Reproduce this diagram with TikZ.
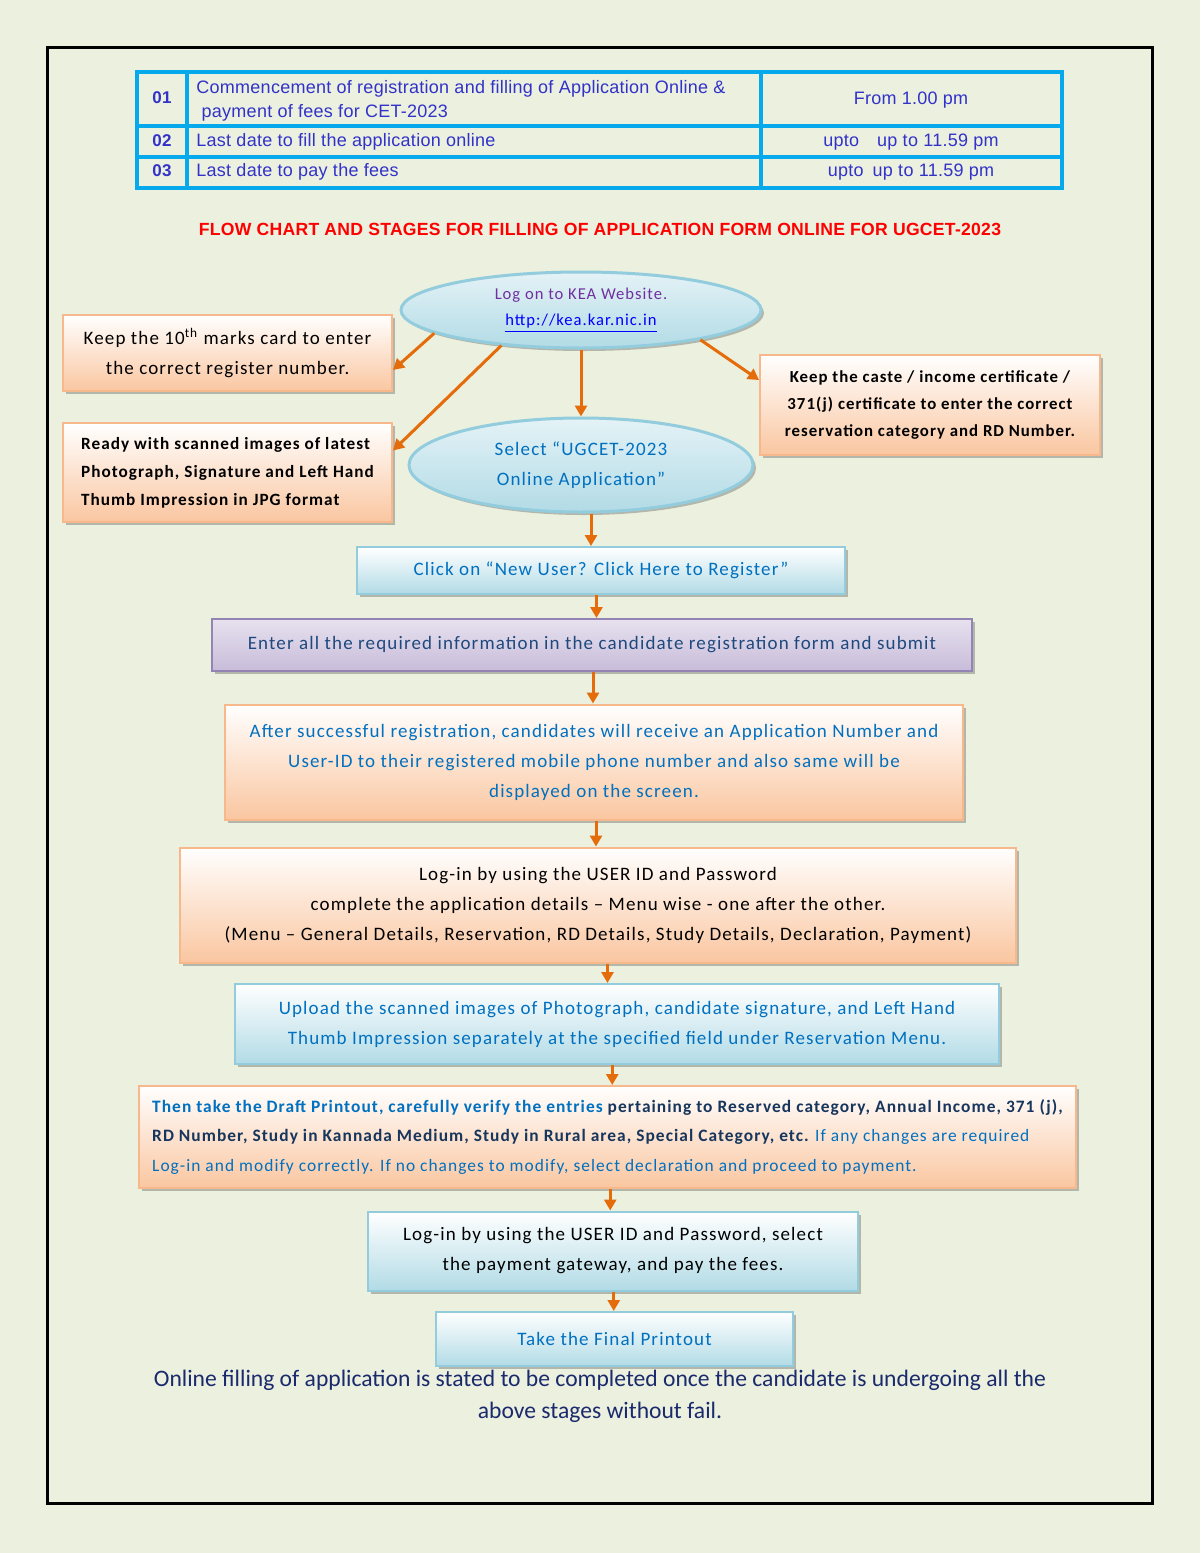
\documentclass[tikz,border=0pt]{standalone}
\usepackage{fontspec}
\setmainfont{Carlito}[LetterSpace=6]
\newfontfamily\plainfont{Carlito}
\newfontfamily\tahfont{Liberation Sans}[LetterSpace=1.5]
\usetikzlibrary{arrows.meta,shapes.geometric,shadows,calc}

\definecolor{pagebg}{HTML}{EBF0DF}
\definecolor{tabline}{HTML}{05A9EC}
\definecolor{tabtext}{HTML}{3232C8}
\definecolor{flowarrow}{HTML}{E46C0A}
\definecolor{orline}{HTML}{F7B98C}
\definecolor{orfill}{HTML}{FAC6A0}
\definecolor{blline}{HTML}{93CDDD}
\definecolor{blfill}{HTML}{B2DBE6}
\definecolor{puline}{HTML}{9484B4}
\definecolor{pufill}{HTML}{C8BCDA}
\definecolor{msblue}{HTML}{0070C0}
\definecolor{navy}{HTML}{17365D}
\definecolor{entertext}{HTML}{1F497D}
\definecolor{notenavy}{HTML}{1A2A6C}
\definecolor{keapurple}{HTML}{7030A0}

\tikzset{
  shade/.style={drop shadow={shadow xshift=1.5pt,shadow yshift=-1.5pt,fill=black!70,opacity=0.35}},
  orbox/.style={rectangle, draw=orline, line width=1pt, top color=white, bottom color=orfill, shade, inner sep=0pt, align=center},
  blbox/.style={rectangle, draw=blline, line width=1pt, top color=white, bottom color=blfill, shade, inner sep=0pt, align=center},
  pubox/.style={rectangle, draw=puline, line width=1pt, top color=pufill!45, bottom color=pufill, shade, inner sep=0pt, align=center},
  oval/.style={ellipse, draw=blline, line width=1.5pt, top color=blfill!35, bottom color=blfill, shade, inner sep=0pt, align=center},
  flow/.style={draw=flowarrow, line width=1.5pt, -{Triangle[length=5.5pt,width=6pt]}},
  body/.style={font=\fontsize{9.5}{15}\selectfont},
  tabcell/.style={font=\tahfont\fontsize{9}{12}\selectfont, text=tabtext, inner sep=0pt}
}

\begin{document}
\begin{tikzpicture}[x=0.5pt,y=-0.5pt]
\useasboundingbox (0,0) rectangle (1200,1553);
\fill[pagebg] (0,0) rectangle (1200,1553);
% page frame
\draw[line width=1.5pt] (47,47) rectangle (1152,1503);

% dates table
\draw[tabline, line width=1.6pt] (137,72) rectangle (1062,188);
\draw[tabline, line width=1.6pt] (187,72) -- (187,188) (761,72) -- (761,188);
\draw[tabline, line width=1.6pt] (137,126) -- (1062,126) (137,157) -- (1062,157);
\node[tabcell, font=\tahfont\bfseries\fontsize{8.5}{12}\selectfont] (no1) at (162,98) {01};
\node[tabcell, font=\tahfont\bfseries\fontsize{8.5}{12}\selectfont] (no2) at (162,141) {02};
\node[tabcell, font=\tahfont\bfseries\fontsize{8.5}{12}\selectfont] (no3) at (162,171) {03};
\node[tabcell, anchor=west, align=left] (ev1) at (196,101) {Commencement of registration and filling of Application Online \&\\\ payment of fees for CET-2023};
\node[tabcell, anchor=west] (ev2) at (196,142) {Last date to fill the application online};
\node[tabcell, anchor=west] (ev3) at (196,172) {Last date to pay the fees};
\node[tabcell] (tm1) at (911,100) {From 1.00 pm};
\node[tabcell] (tm2) at (911,142) {upto\quad up to 11.59 pm};
\node[tabcell] (tm3) at (911,172) {upto\enspace up to 11.59 pm};

% title
\node[font=\tahfont\bfseries\fontsize{8.8}{10}\selectfont, text=red] (title) at (600,229)
  {FLOW CHART AND STAGES FOR FILLING OF APPLICATION FORM ONLINE FOR UGCET-2023};

% top ovals
\node[oval, minimum width=180pt, minimum height=38pt, font=\fontsize{8.3}{13}\selectfont] (logon) at (581,310)
  {\textcolor{keapurple}{Log on to KEA Website.}\\\textcolor{blue}{\underline{http://kea.kar.nic.in}}};
\node[oval, minimum width=172pt, minimum height=47pt, body, text=msblue] (select) at (581,465)
  {Select “UGCET-2023\\Online Application”};

% side notes
\node[orbox, body, minimum width=164.5pt, minimum height=38pt] (tenth) at (227.5,353)
  {Keep the 10\textsuperscript{th} marks card to enter\\the correct register number.};
\node[orbox, minimum width=164.5pt, minimum height=49.5pt, align=left, font=\bfseries\fontsize{8.6}{14}\selectfont] (scan) at (227.5,472.5)
  {Ready with scanned images of latest\\Photograph, Signature and Left Hand\\Thumb Impression in JPG format};
\node[orbox, minimum width=170pt, minimum height=50pt, font=\bfseries\fontsize{8.4}{13.5}\selectfont] (caste) at (930,405)
  {Keep the caste / income certificate /\\371(j) certificate to enter the correct\\reservation category and RD Number.};

% main stages
\node[blbox, body, text=msblue, minimum width=244pt, minimum height=23.5pt] (newuser) at (601,570.5)
  {Click on “New User? Click Here to Register”};
\node[pubox, body, text=entertext, minimum width=380pt, minimum height=26pt] (enter) at (592,645)
  {Enter all the required information in the candidate registration form and submit};
\node[orbox, body, text=msblue, minimum width=369pt, minimum height=57.5pt] (after) at (594,762)
  {After successful registration, candidates will receive an Application Number and\\User-ID to their registered mobile phone number and also same will be\\displayed on the screen.};
\node[orbox, body, minimum width=418pt, minimum height=57.5pt] (login) at (598,905)
  {Log-in by using the USER ID and Password\\complete the application details – Menu wise - one after the other.\\(Menu – General Details, Reservation, RD Details, Study Details, Declaration, Payment)};
\node[blbox, body, text=msblue, minimum width=382pt, minimum height=40pt] (upload) at (617,1024)
  {Upload the scanned images of Photograph, candidate signature, and Left Hand\\Thumb Impression separately at the specified field under Reservation Menu.};
\node[orbox, minimum width=468.5pt, minimum height=51pt, align=left, font=\fontsize{8.7}{14.8}\selectfont] (draft) at (607.5,1137)
  {\textcolor{msblue}{\bfseries Then take the Draft Printout, carefully verify the entries} \textcolor{navy}{\bfseries pertaining to Reserved category, Annual Income, 371 (j),}\\
   \textcolor{navy}{\bfseries RD Number, Study in Kannada Medium, Study in Rural area, Special Category, etc.} \textcolor{msblue}{If any changes are required}\\
   \textcolor{msblue}{Log-in and modify correctly. If no changes to modify, select declaration and proceed to payment.}};
\node[blbox, body, minimum width=245pt, minimum height=39.5pt] (pay) at (613,1251)
  {Log-in by using the USER ID and Password, select\\the payment gateway, and pay the fees.};
\node[blbox, body, text=msblue, minimum width=178.5pt, minimum height=27pt] (final) at (614.5,1339)
  {Take the Final Printout};

% closing remark
\node[text=notenavy, align=center, font=\plainfont\fontsize{11.8}{16}\selectfont] (note) at (600,1396)
  {Online filling of application is stated to be completed once the candidate is undergoing all the\\above stages without fail.};

% arrows out of the first oval
\draw[flow] (logon.189) -- ([yshift=-8.5pt]tenth.east);
\draw[flow] (logon.204) -- ([yshift=11pt]scan.east);
\draw[flow] (logon.south) -- (select.north);
\draw[flow] (logon.346) -- ([yshift=12.5pt]caste.west);

% downward chain
\foreach \a/\b in {select/newuser, newuser/enter, enter/after, after/login, login/upload, upload/draft, draft/pay, pay/final}{
  \coordinate (mid) at ($(\a.south)!0.5!(\b.north)$);
  \draw[flow] (mid |- \a.south) -- (mid |- \b.north);
}
\end{tikzpicture}
\end{document}
